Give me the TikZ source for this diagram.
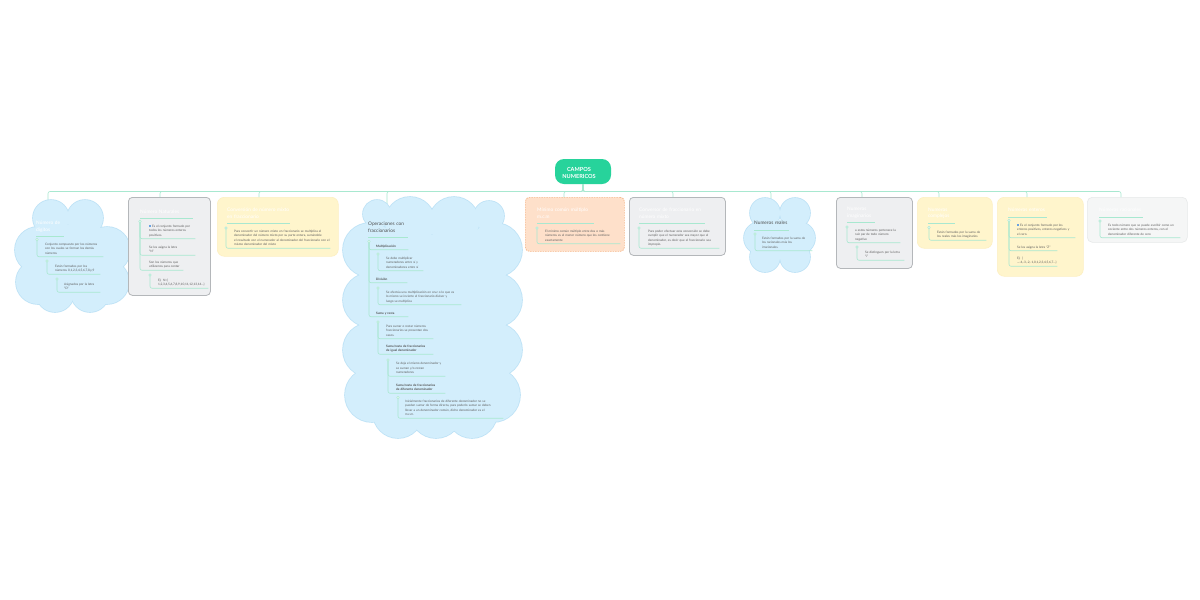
\documentclass[tikz,border=0pt]{standalone}
\usepackage{fontspec}
\setmainfont{Lato}
\usepackage{tikz}

\definecolor{rootc}{HTML}{27D39B}
\definecolor{mintc}{HTML}{A8E8D0}
\definecolor{cloudfill}{HTML}{D3EEFC}
\definecolor{cloudedge}{HTML}{BDE2F6}
\definecolor{grayfill}{HTML}{EEEFF1}
\definecolor{grayedge}{HTML}{B4B7BA}
\definecolor{yelfill}{HTML}{FFF5CC}
\definecolor{yeledge}{HTML}{FDF0C2}
\definecolor{orfill}{HTML}{FEE0CA}
\definecolor{oredge}{HTML}{F7B88A}
\definecolor{palefill}{HTML}{F5F6F6}
\definecolor{paleedge}{HTML}{E7E9E9}
\definecolor{bodyc}{HTML}{5B5B5B}
\definecolor{darkc}{HTML}{4D4D4D}
\definecolor{taskc}{HTML}{6AA2E2}

\newcommand\bodysize{\fontsize{3.1}{4.5}\selectfont}
\newcommand\ttlsize{\fontsize{4.8}{6.8}\selectfont}
\newcommand\rootsize{\fontsize{5.6}{7}\selectfont}
\newcommand\taskicon{{\color{taskc}\rule{2.2pt}{2.2pt}}\hspace{0.8pt}}

\begin{document}
\begin{tikzpicture}[x=1pt, y=-1pt,
  conn/.style={draw=mintc, line width=0.6pt, rounded corners=2pt},
  knob/.style={fill=white, draw=mintc, line width=0.5pt},
  body/.style={anchor=base west, font=\bodysize, text=bodyc, align=left, inner xsep=0pt, inner ysep=1.2pt, execute at end node=\strut},
  bodybold/.style={body, font=\bodysize\bfseries, text=darkc},
  ttl/.style={anchor=base west, font=\ttlsize, text=white, align=left, inner xsep=0pt, inner ysep=3.2pt, execute at end node=\strut},
  ttldark/.style={ttl, text=darkc},
  topicbox/.style={anchor=north west, inner sep=0pt},
  graybox/.style={topicbox, draw=grayedge, fill=grayfill, line width=0.8pt, rounded corners=4pt},
  yelbox/.style={topicbox, draw=yeledge, fill=yelfill, line width=0.6pt, rounded corners=7pt},
  orbox/.style={topicbox, draw=oredge, fill=orfill, line width=0.7pt, dash pattern=on 1.5pt off 1pt, rounded corners=4pt},
  palebox/.style={topicbox, draw=paleedge, fill=palefill, line width=0.6pt, rounded corners=5pt},
  cloudline/.style={draw=cloudedge, line width=1.6pt},
  rootnode/.style={fill=rootc, rounded corners=9pt, minimum width=56pt, minimum height=25pt, inner sep=0pt}]

  \fill[white] (0,0) rectangle (1200,600);
  \useasboundingbox (0,0) rectangle (1200,600);

  % central topic and the bus
  \node[rootnode] (root) at (583,171.5) {};
  \node[font=\rootsize\bfseries, text=white, align=center] (rootlbl) at (579,172.5) {CAMPOS\\NUMERICOS};

  \coordinate (bus) at (583,191.5);
  \coordinate (d1) at (48,201);
  \coordinate (d2) at (160,199);
  \coordinate (d3) at (259,199);
  \coordinate (d4) at (387,206);
  \coordinate (d5) at (564,199);
  \coordinate (d6) at (673,199);
  \coordinate (d7) at (771,201);
  \coordinate (d8) at (862,199);
  \coordinate (d9) at (939,199);
  \coordinate (d10) at (1027,199);
  \coordinate (d11) at (1121,199);
  \foreach \i in {1,...,11}
    \draw[conn] (root.south) -- (bus) -| (d\i);

  % clouds
  \foreach \cx/\cy/\r in {51/218/18, 85/218/18, 38/250/23, 107/250/23, 38/282/22, 107/282/22, 55/293/19, 90/293/19}
    \draw[cloudline] (\cx,\cy) circle[radius=\r];
  \foreach \cx/\cy/\r in {51/218/18, 85/218/18, 38/250/23, 107/250/23, 38/282/22, 107/282/22, 55/293/19, 90/293/19}
    \fill[cloudfill] (\cx,\cy) circle[radius=\r];
  \fill[cloudfill] (45,225) rectangle (100,290);

  \foreach \cx/\cy/\r in {377/214/14, 410/222/25, 454/222/25, 489/216/15, 370/250/27, 370/300/27, 370/350/27, 372/395/27, 495/250/27, 495/300/27, 495/350/27, 493/395/27, 398/413/25, 436/412/26, 472/413/25}
    \draw[cloudline] (\cx,\cy) circle[radius=\r];
  \foreach \cx/\cy/\r in {377/214/14, 410/222/25, 454/222/25, 489/216/15, 370/250/27, 370/300/27, 370/350/27, 372/395/27, 495/250/27, 495/300/27, 495/350/27, 493/395/27, 398/413/25, 436/412/26, 472/413/25}
    \fill[cloudfill] (\cx,\cy) circle[radius=\r];
  \fill[cloudfill] (380,235) rectangle (485,410);

  \foreach \cx/\cy/\r in {765/213/15, 795/213/15, 760/238/16, 799/238/16, 765/257/15, 795/257/15}
    \draw[cloudline] (\cx,\cy) circle[radius=\r];
  \foreach \cx/\cy/\r in {765/213/15, 795/213/15, 760/238/16, 799/238/16, 765/257/15, 795/257/15}
    \fill[cloudfill] (\cx,\cy) circle[radius=\r];
  \fill[cloudfill] (765,220) rectangle (795,255);

  % boxes
  \node[graybox, minimum width=82pt, minimum height=98pt] (natbox) at (128,197) {};
  \node[yelbox, minimum width=121pt, minimum height=59pt] (convbox) at (217,197) {};
  \node[orbox, minimum width=99pt, minimum height=54pt] (mcmbox) at (525,197) {};
  \node[graybox, minimum width=96pt, minimum height=58pt] (cvmbox) at (629,197) {};
  \node[graybox, minimum width=76pt, minimum height=71pt] (imagbox) at (836,197) {};
  \node[yelbox, minimum width=75pt, minimum height=51pt] (cplbox) at (917,197) {};
  \node[yelbox, minimum width=86pt, minimum height=79pt] (entbox) at (997,197) {};
  \node[palebox, minimum width=100pt, minimum height=45pt] (racbox) at (1087,197) {};

  % Numero de digitos
  \node[ttl, text width=28pt] (digt) at (36,224.5) {Número de\\dígitos};
  \node[body, text width=58pt] (dig1) at (45,245) {Conjunto compuesto por los números\\con los cuales se forman los demás\\números};
  \node[body, text width=45pt] (dig2) at (55,267) {Están formados por los\\números 0,1,2,3,4,5,6,7,8,y,9};
  \node[body, text width=36pt] (dig3) at (64,285) {Asignados por la letra\\“D”};
  \coordinate (kdig0) at (37,239.5);
  \coordinate (kdig1) at (47,261);
  \coordinate (kdig2) at (57,279);
  \draw[conn] (digt.south west) -- (digt.south east);
  \draw[conn] (kdig0) |- (dig1.south east);
  \draw[conn] (kdig1) |- (dig2.south east);
  \draw[conn] (kdig2) |- (dig3.south east);

  % Numero naturales
  \node[ttl, text width=53pt] (natt) at (140,213) {Número Naturales};
  \node[body, text width=46pt] (nat1) at (149,227) {\taskicon Es el conjunto formado por\\todos los números enteros\\positivos.};
  \node[body, text width=46pt] (nat2) at (149,248) {Se les asigna la letra\\“N”};
  \node[body, text width=34pt] (nat3) at (149,263) {Son los números que\\utilizamos para contar};
  \node[body, text width=50pt] (nat4) at (158,281) {Ej: N=\{\\\mbox{1,2,3,4,5,6,7,8,9,10,11,12,13,14...\}}};
  \coordinate (knat0) at (140,221.5);
  \coordinate (knat1) at (150,275);
  \draw[conn] (natt.south west) -- (natt.south east);
  \draw[conn] (knat0) |- (nat1.south east);
  \draw[conn] (knat0) |- (nat2.south east);
  \draw[conn] (knat0) |- (nat3.south east);
  \draw[conn] (knat1) |- (nat4.south east);

  % Conversion de numero mixto
  \node[ttl, text width=63pt] (convt) at (227,211.5) {Conversión de número mixto\\en fraccionario};
  \node[body, text width=96pt] (conv1) at (234,232) {Para convertir un número mixto en fraccionario se multiplica el\\denominador del número mixto por su parte entera, sumándole\\el resultado con el numerador al denominador del fraccionario con el\\mismo denominador del mixto};
  \coordinate (kconv0) at (226,228);
  \draw[conn] (convt.south west) -- (convt.south east);
  \draw[conn] (kconv0) |- (conv1.south east);

  % Operaciones con fraccionarios
  \node[ttldark, text width=40pt] (opst) at (368,225.5) {Operaciones con\\fraccionarios};
  \node[bodybold, text width=32pt] (ops1) at (376,247) {Multiplicación};
  \node[body, text width=37pt] (ops2) at (386,259) {Se debe multiplicar\\numeradores entre sí y\\denominadores entre sí};
  \node[bodybold, text width=31pt] (ops3) at (376,280) {División};
  \node[body, text width=75pt] (ops4) at (386,293) {Se efectúa una multiplicación en cruz o lo que es\\lo mismo se invierte el fraccionario divisor y\\luego se multiplica};
  \node[bodybold, text width=32pt] (ops5) at (376,314) {Suma y resta};
  \node[body, text width=47pt] (ops6) at (386,327) {Para sumar o restar números\\fraccionarios se presentan dos\\casos.};
  \node[bodybold, text width=47pt] (ops7) at (386,347) {Suma/resta de fraccionarios\\de igual denominador};
  \node[body, text width=49pt] (ops8) at (396,364.5) {Se deja el mismo denominador y\\se suman y/o restan\\numeradores};
  \node[bodybold, text width=49pt] (ops9) at (396,386) {Suma/resta de fraccionarios\\de diferente denominador};
  \node[body, text width=98pt] (ops10) at (405,402) {Inicialmente fraccionarios de diferente denominador no se\\pueden sumar de forma directa, para poderlo sumar se deben\\llevar a un denominador común, dicho denominador es el\\m.c.m.};
  \coordinate (kops0) at (369,241.5);
  \coordinate (kops1) at (378,254);
  \coordinate (kops3) at (378,288);
  \coordinate (kops5) at (378,322);
  \coordinate (kops7) at (388,360);
  \coordinate (kops9) at (398,397.5);
  \draw[conn] (opst.south west) -- (opst.south east);
  \draw[conn] (kops0) |- (ops1.south east);
  \draw[conn] (kops0) |- (ops3.south east);
  \draw[conn] (kops0) |- (ops5.south east);
  \draw[conn] (kops1) |- (ops2.south east);
  \draw[conn] (kops3) |- (ops4.south east);
  \draw[conn] (kops5) |- (ops6.south east);
  \draw[conn] (kops5) |- (ops7.south east);
  \draw[conn] (kops7) |- (ops8.south east);
  \draw[conn] (kops7) |- (ops9.south east);
  \draw[conn] (kops9) |- (ops10.south east);

  % Minimo comun multiplo
  \node[ttl, text width=57pt] (mcmt) at (537,211.5) {Mínimo común múltiplo\\m.c.m};
  \node[body, text width=75pt] (mcm1) at (545,232) {El mínimo común múltiplo entre dos o más\\números es el menor número que los contiene\\exactamente};
  \coordinate (kmcm0) at (537,228);
  \draw[conn] (mcmt.south west) -- (mcmt.south east);
  \draw[conn] (kmcm0) |- (mcm1.south east);

  % Conversor de fraccionario
  \node[ttl, text width=66pt] (cvmt) at (639,211.5) {Conversor de fraccionario en\\número mixto};
  \node[body, text width=71pt] (cvm1) at (648,232) {Para poder efectuar esta conversión se debe\\cumplir que el numerador sea mayor que el\\denominador, es decir que el fraccionario sea\\impropio.};
  \coordinate (kcvm0) at (639,228);
  \draw[conn] (cvmt.south west) -- (cvmt.south east);
  \draw[conn] (kcvm0) |- (cvm1.south east);

  % Numeros reales
  \node[ttldark, text width=35pt] (realt) at (754,224.5) {Numeros reales};
  \node[body, text width=50pt] (real1) at (762,239) {Están formados por la suma de\\los racionales más los\\irracionales.};
  \coordinate (kreal0) at (755,234);
  \draw[conn] (realt.south west) -- (realt.south east);
  \draw[conn] (kreal0) |- (real1.south east);

  % Numeros imaginarios
  \node[ttl, text width=28pt] (imagt) at (847,210.5) {Numeros\\imaginarios};
  \node[body, text width=45pt] (imag1) at (855,231) {a estos números pertenece la\\raíz par de todo número\\negativo};
  \node[body, text width=39pt] (imag2) at (865,253) {Se distinguen por la letra\\“i”};
  \coordinate (kimag0) at (847,227);
  \coordinate (kimag1) at (857,247);
  \draw[conn] (imagt.south west) -- (imagt.south east);
  \draw[conn] (kimag0) |- (imag1.south east);
  \draw[conn] (kimag1) |- (imag2.south east);

  % Numeros complejos
  \node[ttl, text width=27pt] (cplt) at (928,211) {Numeros\\complejos};
  \node[body, text width=49pt] (cpl1) at (937,233) {Están formados por la suma de\\los reales más los imaginarios};
  \coordinate (kcpl0) at (929,227.5);
  \draw[conn] (cplt.south west) -- (cplt.south east);
  \draw[conn] (kcpl0) |- (cpl1.south east);

  % Numeros enteros
  \node[ttl, text width=39pt] (entt) at (1008,211.5) {Números enteros};
  \node[body, text width=58pt] (ent1) at (1017,226) {\taskicon Es el conjunto formado por los\\enteros positivos, enteros negativos y\\el cero.};
  \node[body, text width=40pt] (ent2) at (1017,248) {Se les asigna la letra “Z”};
  \node[body, text width=40pt] (ent3) at (1017,259) {Ej: \{\\\mbox{...-4,-3,-2,-1,0,1,2,3,4,5,6,7...\}}};
  \coordinate (kent0) at (1009,220.5);
  \draw[conn] (entt.south west) -- (entt.south east);
  \draw[conn] (kent0) |- (ent1.south east);
  \draw[conn] (kent0) |- (ent2.south east);
  \draw[conn] (kent0) |- (ent3.south east);

  % Numeros racionales
  \node[ttl, text width=44pt] (ract) at (1099,211.5) {Números racionales};
  \node[body, text width=72pt] (rac1) at (1108,226) {Es todo número que se puede escribir como un\\cociente entre dos números enteros, con el\\denominador diferente de cero};
  \coordinate (krac0) at (1100,221);
  \draw[conn] (ract.south west) -- (ract.south east);
  \draw[conn] (krac0) |- (rac1.south east);

  % knobs on top
  \foreach \k in {kdig0,kdig1,kdig2,knat0,knat1,kconv0,kops0,kops1,kops3,kops5,kops7,kops9,kmcm0,kcvm0,kreal0,kimag0,kimag1,kcpl0,kent0,krac0}
    \filldraw[knob] (\k) circle[radius=1.3];
\end{tikzpicture}
\end{document}
